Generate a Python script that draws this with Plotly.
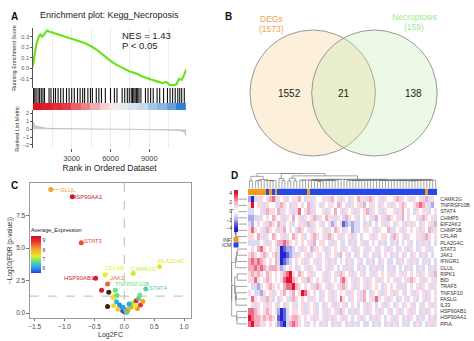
import numpy as np
import plotly.graph_objects as go
from plotly.colors import sample_colorscale

W, H = 474, 341

# ---------------- DATA ----------------
# Panel A: GSEA
N_RANK = 11850
ES_RANK = [0, 100, 250, 400, 500, 600, 700, 800, 900, 1000, 1100, 1250, 1500, 1800, 2100, 2500, 3000,
           3500, 4000, 4500, 5000, 5500, 6000, 6500, 7000, 7500, 8000, 8500, 9000, 9500, 10000, 10300,
           10600, 10900, 11100, 11300, 11500, 11700, 11850]
ES_VALUE = [0.02, 0.12, 0.22, 0.28, 0.31, 0.32, 0.30, 0.31, 0.33, 0.34, 0.36, 0.35, 0.34, 0.33, 0.32,
            0.30, 0.28, 0.26, 0.24, 0.21, 0.17, 0.12, 0.07, 0.03, 0.00, -0.03, -0.05, -0.08, -0.10,
            -0.12, -0.14, -0.13, -0.16, -0.16, -0.15, -0.10, -0.11, -0.06, -0.01]
HIT_RANKS = [50, 150, 250, 400, 520, 650, 780, 900, 1250, 1400, 1600, 1750, 1950, 2150, 2350, 2600,
             2800, 3000, 3200, 3450, 3650, 3850, 4000, 4250, 4450, 4600, 4900, 5100, 5300, 5600, 6000,
             6300, 6500, 6900, 7100, 7300, 7450, 7600, 7700, 7800, 7900, 8000, 8100, 8200, 8350, 8700,
             8900, 9100, 9300, 9600, 9800, 10100, 10400, 10600, 10800, 11000, 11200, 11350, 11500, 11700]
RANK_COLOR_LEVELS = [3.0, 2.9, 2.7, 2.5, 2.0, 1.6, 1.0, 0.5, 0.15, -0.3, -0.6, -0.9, -1.6, -1.9, -2.3, -2.9]
MET_RANK = [0, 50, 150, 300, 600, 1000, 1500, 2500, 3500, 4500, 6000, 7500, 8500, 9500, 10500, 11000,
            11400, 11600, 11750, 11850]
MET_VALUE = [1.0, 0.75, 0.5, 0.35, 0.22, 0.14, 0.09, 0.05, 0.03, 0.01, 0.0, -0.01, -0.03, -0.05, -0.09,
             -0.13, -0.2, -0.3, -0.5, -0.9]
NES_TEXT = ["NES = 1.43", "P < 0.05"]
GSEA_TITLE = "Enrichment plot: Kegg_Necroposis"

# Panel B: Venn
SET_NAMES = ["DEGs", "Necroptosis"]
SET_SIZES = [1573, 159]
SET_OVERLAP = 21

# Panel C: volcano
LABEL_GENES = ["GLUL", "HSP90AA1", "STAT3", "HSP90AB1", "CFLAR", "JAK1", "CAMK2G", "PLA2G4C", "TNFRSF10B", "STAT4"]
LABEL_LFC = [-1.23, -0.87, -0.72, -0.48, -0.32, -0.28, 0.15, 0.59, -0.15, 0.36]
LABEL_LOGP = [9.5, 8.95, 5.4, 2.67, 2.95, 2.23, 3.05, 3.56, 1.75, 1.85]
LABEL_EXPR = [8.1, 9.4, 8.7, 9.3, 7.3, 8.5, 7.2, 7.4, 6.8, 6.6]
OTHER_LFC = [-0.38, -0.16, -0.12, -0.19, -0.13, -0.18, -0.08, -0.05, -0.03, 0.0, 0.02, 0.04, 0.06, 0.09,
             0.12, 0.14, 0.20, 0.24, 0.26, 0.27, 0.22, 0.31, 0.18, -0.10, 0.08, -0.02]
OTHER_LOGP = [1.75, 1.30, 1.35, 1.20, 0.87, 0.56, 0.62, 0.36, 0.20, 0.10, 0.25, 0.05, 0.23, 0.40, 0.48,
              0.78, 0.95, 1.13, 1.38, 0.62, 0.35, 0.88, 0.55, 0.30, 0.70, 0.45]
OTHER_EXPR = [9.3, 7.6, 6.8, 7.5, 6.2, 7.5, 6.0, 5.6, 5.7, 5.5, 6.3, 6.6, 8.2, 6.9, 8.1, 7.0, 9.0, 6.6,
              6.9, 8.9, 8.2, 8.1, 7.3, 7.7, 6.2, 6.1]
DARK_LFC = [-0.26, -0.28]
DARK_LOGP = [1.6, 0.5]
FDR_CUT = 0.05

# Panel D: heatmap
ROW_GENES = ["CAMK2G", "TNFRSF10B", "STAT4", "CHMP5", "EIF2AK2", "CHMP1B", "CFLAR", "PLA2G4C", "STAT3",
             "JAK1", "IFNGR1", "GLUL", "RIPK1", "BID", "TRAF5", "TNFSF10", "FASLG", "IL33", "HSP90AB1",
             "HSP90AA1", "PPIA"]
# one string per gene, one digit per sample: '4' = 0, '0' = -4, '8' = +4
HEAT_ROWS = [
    "20355456" "73545345" "56435354" "45536453" "54354655" "36545354" "45635453" "54536354",
    "58455354" "45365435" "54546354" "35455463" "45354536" "45543545" "35456544" "56765324",
    "33445365" "54635453" "57456354" "45354645" "35453545" "63545354" "45356454" "35455345",
    "22335454" "65453546" "45354563" "54655354" "36545345" "45364536" "54536454" "45365453",
    "32454536" "54653453" "45536354" "53452345" "12323343" "53434535" "43545353" "54354536",
    "57545365" "45356454" "36545354" "45354654" "35423345" "54535446" "35453545" "45354635",
    "55465354" "65453546" "54534565" "45365453" "54535434" "45354554" "36545354" "45536545",
    "33334535" "45667654" "54545364" "55453545" "34353453" "34543534" "35343453" "43535343",
    "45467545" "45301223" "45354635" "45354545" "35453545" "35435453" "54354535" "43545354",
    "56545654" "56300123" "35453545" "54354536" "45343543" "54353454" "35343543" "54353434",
    "67676545" "46301234" "54535453" "54535345" "43534534" "35343543" "34353453" "53435343",
    "66767656" "66523454" "35453545" "34535434" "53534353" "43535343" "53434353" "43534353",
    "56565465" "45456785" "46545354" "45354536" "54535453" "45354545" "35453545" "45354536",
    "55754565" "45457886" "54536545" "45354546" "75453545" "35453545" "45354536" "54535453",
    "43325456" "54546778" "65454536" "54535453" "65453545" "35454354" "54535345" "45354535",
    "54332545" "35456456" "45875454" "35453545" "45354536" "43545354" "53545345" "35453545",
    "47545365" "34354536" "54545354" "35453547" "54354536" "45375453" "54354534" "53453545",
    "45354535" "45343545" "34535453" "43545354" "53454345" "35434535" "43543545" "34534535",
    "77654565" "45201345" "54535453" "45354536" "54353545" "35453545" "34535453" "54353545",
    "87665656" "54101356" "65454535" "45353545" "35434535" "43535434" "53543535" "43534353",
    "78665545" "45210367" "65453454" "35343535" "43535343" "34353435" "35343534" "35343535",
]
# sample group per column: I = INF, C = ICM
SAMPLE_GROUPS = "IIIIIICICI" + "C" * 10 + "I" + "C" * 39 + "I" + "CCC"
GROUP_NAMES = ["INF", "ICM"]

# ---------------- helpers ----------------
def px_x(p):
    return p / W


def px_y(p):
    return 1 - p / H


N_COL = 64
heat = np.array([[int(c) - 4 for c in (r + "4" * N_COL)[:N_COL]] for r in HEAT_ROWS], dtype=float)
groups = [0 if g == "I" else 1 for g in (SAMPLE_GROUPS + "C" * N_COL)[:N_COL]]


def adjacent_linkage(vectors):
    clusters = [dict(pos=float(i), h=0.0, vec=np.asarray(v, float), n=1) for i, v in enumerate(vectors)]
    merges = []
    while len(clusters) > 1:
        dists = []
        for k in range(len(clusters) - 1):
            a, b = clusters[k], clusters[k + 1]
            d = np.sqrt(2 * a['n'] * b['n'] / (a['n'] + b['n'])) * np.linalg.norm(a['vec'] - b['vec'])
            dists.append(d)
        k = int(np.argmin(dists))
        a, b = clusters[k], clusters[k + 1]
        h = max(dists[k], a['h'], b['h'])
        merges.append((a['pos'], a['h'], b['pos'], b['h'], h))
        clusters[k:k + 2] = [dict(pos=(a['pos'] + b['pos']) / 2, h=h,
                                  vec=(a['vec'] * a['n'] + b['vec'] * b['n']) / (a['n'] + b['n']),
                                  n=a['n'] + b['n'])]
    return merges, clusters[0]['h']


def dendro_path(merges, power=0.6):
    ps, hs = [], []
    for a_pos, a_h, b_pos, b_h, h in merges:
        ps += [a_pos, a_pos, b_pos, b_pos, None]
        hs += [a_h ** power, h ** power, h ** power, b_h ** power, None]
    return ps, hs


FONT = "Liberation Sans, Arial, sans-serif"
fig = go.Figure()

# ---------------- Panel A ----------------
fig.add_trace(go.Scatter(x=ES_RANK, y=ES_VALUE, mode="lines", line=dict(color="#6BE31C", width=2.2),
                         xaxis="x", yaxis="y", hoverinfo="skip"))
hx, hy = [], []
for r in HIT_RANKS:
    hx += [r, r, None]
    hy += [0, 1, None]
fig.add_trace(go.Scatter(x=hx, y=hy, mode="lines", line=dict(color="#111", width=1.1),
                         xaxis="x2", yaxis="y2", hoverinfo="skip"))
nlev = len(RANK_COLOR_LEVELS)
fig.add_trace(go.Heatmap(z=[RANK_COLOR_LEVELS], x=[(i + 0.5) * N_RANK / nlev for i in range(nlev)], y=[0],
                         zmin=-3, zmax=3, showscale=False, xaxis="x3", yaxis="y3", hoverinfo="skip",
                         colorscale=[[0, "#2A7BD5"], [0.25, "#A9CBE6"], [0.5, "#F6F1F3"],
                                     [0.75, "#F08890"], [1, "#E0161E"]]))
fig.add_trace(go.Scatter(x=MET_RANK, y=MET_VALUE, mode="lines", fill="tozeroy", fillcolor="#C9CDCD",
                         line=dict(color="#B3B8B8", width=0.8), xaxis="x4", yaxis="y4", hoverinfo="skip"))

# ---------------- Panel B (Venn) ----------------
fig.add_trace(go.Scatter(x=[300], y=[100], mode="markers", marker=dict(opacity=0), xaxis="x5", yaxis="y5",
                         hoverinfo="skip"))

# ---------------- Panel C (volcano) ----------------
VOLC_CS = [[0, "#2B3BD8"], [0.15, "#22A6F0"], [0.32, "#62E08A"], [0.45, "#E8EE22"],
           [0.65, "#F6A030"], [0.85, "#E63232"], [1, "#C8102E"]]
CMIN, CMAX = 5.5, 9.5
fig.add_trace(go.Scatter(x=OTHER_LFC + LABEL_LFC, y=OTHER_LOGP + LABEL_LOGP, mode="markers",
                         marker=dict(size=5, color=OTHER_EXPR + LABEL_EXPR, colorscale=VOLC_CS,
                                     cmin=CMIN, cmax=CMAX, showscale=True,
                                     colorbar=dict(x=px_x(29), xanchor="left", y=px_y(273), yanchor="bottom",
                                                   len=48 / H, lenmode="fraction", thickness=10,
                                                   thicknessmode="pixels", outlinewidth=0,
                                                   tickvals=[6, 7, 8, 9], ticks="",
                                                   tickfont=dict(size=5, color="#444", family=FONT),
                                                   title=dict(text="Average_Expression", side="top",
                                                              font=dict(size=5.5, color="#222", family=FONT)),
                                                   bgcolor="rgba(0,0,0,0)", xpad=0, ypad=0)),
                         xaxis="x6", yaxis="y6", hoverinfo="skip"))
fig.add_trace(go.Scatter(x=DARK_LFC, y=DARK_LOGP, mode="markers", marker=dict(size=5, color="#4A1A0C"),
                         xaxis="x6", yaxis="y6", hoverinfo="skip"))

# ---------------- Panel D (heatmap) ----------------
HEAT_CS = [[0, "#2424CC"], [0.125, "#6464DA"], [0.25, "#ABABEA"], [0.375, "#DADAF6"], [0.5, "#FFFFFF"],
           [0.625, "#F9DAE3"], [0.75, "#F3AEC0"], [0.875, "#EA6A88"], [1, "#E0102E"]]
fig.add_trace(go.Heatmap(z=heat, x=list(range(N_COL)), y=list(range(len(ROW_GENES))), zmin=-4, zmax=4,
                         colorscale=HEAT_CS, showscale=False, xaxis="x7", yaxis="y7", hoverinfo="skip"))
fig.add_trace(go.Heatmap(z=[groups], x=list(range(N_COL)), y=[0], zmin=0, zmax=1, showscale=False,
                         colorscale=[[0, "#F39A1E"], [0.5, "#F39A1E"], [0.5, "#2447E6"], [1, "#2447E6"]],
                         xaxis="x8", yaxis="y8", hoverinfo="skip"))
cm, cmax_h = adjacent_linkage(heat.T)
cx, cy = dendro_path(cm)
fig.add_trace(go.Scatter(x=cx, y=cy, mode="lines", line=dict(color="#666", width=0.6), xaxis="x9",
                         yaxis="y9", hoverinfo="skip"))
rm, rmax_h = adjacent_linkage(heat)
ry, rx = dendro_path(rm)
fig.add_trace(go.Scatter(x=rx, y=ry, mode="lines", line=dict(color="#666", width=0.6), xaxis="x10",
                         yaxis="y10", hoverinfo="skip"))
levels = list(np.linspace(-4.7, 4.7, 48))
fig.add_trace(go.Heatmap(z=[[v] for v in levels], x=[0], y=levels, zmin=-4, zmax=4, colorscale=HEAT_CS,
                         showscale=False, xaxis="x11", yaxis="y11", hoverinfo="skip"))

# ---------------- Layout ----------------
A_X = [px_x(31), px_x(185)]
hidden = dict(visible=False, showgrid=False, zeroline=False)
small_tick = dict(size=5.5, color="#555", family=FONT)
layout = dict(
    width=W, height=H, margin=dict(l=0, r=0, t=0, b=0), paper_bgcolor="white", plot_bgcolor="white",
    showlegend=False, font=dict(family=FONT, color="#333"),
    xaxis=dict(domain=A_X, anchor="y", range=[0, N_RANK], showticklabels=False, ticks="", zeroline=False,
               showgrid=True, gridcolor="#ECECEC", gridwidth=0.8, tick0=0, dtick=1500),
    yaxis=dict(domain=[px_y(88), px_y(28)], anchor="x", range=[-0.187, 0.383],
               tickvals=[-0.1, 0, 0.1, 0.2, 0.3], ticktext=["-0.1", "0.0", "0.1", "0.2", "0.3"],
               tickfont=small_tick, ticks="outside", ticklen=2, tickcolor="#555", showline=True,
               linecolor="#555", linewidth=0.6, showgrid=False, zeroline=False,
               title=dict(text="Running Enrichment Score", font=dict(size=5.5, color="#333"), standoff=2)),
    xaxis2=dict(domain=A_X, anchor="y2", range=[0, N_RANK], **hidden),
    yaxis2=dict(domain=[px_y(103), px_y(88)], anchor="x2", range=[0, 1], **hidden),
    xaxis3=dict(domain=A_X, anchor="y3", range=[0, N_RANK], **hidden),
    yaxis3=dict(domain=[px_y(110), px_y(103)], anchor="x3", range=[-0.5, 0.5], **hidden),
    xaxis4=dict(domain=A_X, anchor="y4", range=[0, N_RANK], tickvals=[3000, 6000, 9000],
                tickfont=dict(size=7.5, color="#444"), ticks="outside", ticklen=2.5, tickcolor="#555",
                showgrid=True, gridcolor="#ECECEC", zeroline=False,
                minor=dict(tickmode="linear", tick0=0, dtick=1500, showgrid=True, gridcolor="#ECECEC"),
                title=dict(text="Rank in Ordered Dataset", font=dict(size=8.5, color="#222"), standoff=3)),
    yaxis4=dict(domain=[px_y(148), px_y(110)], anchor="x4", range=[-2.4, 2.45], tickvals=[-2, -1, 0, 1, 2],
                tickfont=small_tick, ticks="outside", ticklen=2, tickcolor="#555", showline=True,
                linecolor="#555", linewidth=0.6, showgrid=False, zeroline=False,
                title=dict(text="Ranked List Metric", font=dict(size=5.5, color="#333"), standoff=2)),
    xaxis5=dict(domain=[px_x(240), 1], anchor="y5", range=[240, 474], **hidden),
    yaxis5=dict(domain=[px_y(170), 1], anchor="x5", range=[170, 0], **hidden),
    xaxis6=dict(domain=[px_x(28), px_x(190)], anchor="y6", range=[-1.58, 1.12],
                tickvals=[-1.5, -1, -0.5, 0, 0.5, 1], ticktext=["−1.5", "−1.0", "−0.5", "0.0", "0.5", "1.0"],
                tickfont=dict(size=6.5, color="#444"), ticks="outside", ticklen=2.5, tickcolor="#777",
                showline=True, mirror=True, linecolor="#9A9A9A", linewidth=0.8, showgrid=False, zeroline=False,
                title=dict(text="Log2FC", font=dict(size=7, color="#333"), standoff=2)),
    yaxis6=dict(domain=[px_y(318), px_y(183)], anchor="x6", range=[-0.38, 10.0],
                tickvals=[0, 2.5, 5, 7.5], ticktext=["0.0", "2.5", "5.0", "7.5"],
                tickfont=dict(size=6.5, color="#444"), ticks="outside", ticklen=2.5, tickcolor="#777",
                showline=True, mirror=True, linecolor="#9A9A9A", linewidth=0.8, showgrid=False, zeroline=False,
                title=dict(text="−Log10(FDR (p-value))", font=dict(size=6.5, color="#333"), standoff=2)),
    xaxis7=dict(domain=[px_x(247), px_x(437)], anchor="y7", range=[-0.5, N_COL - 0.5], **hidden),
    yaxis7=dict(domain=[px_y(327), px_y(196)], anchor="x7", range=[len(ROW_GENES) - 0.5, -0.5], side="right",
                tickvals=list(range(len(ROW_GENES))), ticktext=ROW_GENES, ticks="", showgrid=False,
                zeroline=False, tickfont=dict(size=5.2, color="#333"), ticklabelstandoff=2),
    xaxis8=dict(domain=[px_x(247), px_x(437)], anchor="y8", range=[-0.5, N_COL - 0.5], **hidden),
    yaxis8=dict(domain=[px_y(195), px_y(188.5)], anchor="x8", range=[-0.5, 0.5], **hidden),
    xaxis9=dict(domain=[px_x(247), px_x(437)], anchor="y9", range=[-0.5, N_COL - 0.5], **hidden),
    yaxis9=dict(domain=[px_y(188), px_y(173)], anchor="x9", range=[0, cmax_h ** 0.6 * 1.02], **hidden),
    xaxis10=dict(domain=[px_x(230), px_x(246)], anchor="y10", range=[rmax_h ** 0.6 * 1.02, 0], **hidden),
    yaxis10=dict(domain=[px_y(327), px_y(196)], anchor="x10", range=[len(ROW_GENES) - 0.5, -0.5], **hidden),
    xaxis11=dict(domain=[px_x(233), px_x(237.5)], anchor="y11", range=[-0.5, 0.5], **hidden),
    yaxis11=dict(domain=[px_y(232), px_y(190)], anchor="x11", range=[-4.8, 4.8], tickvals=[-4, -2, 0, 2, 4],
                 tickfont=dict(size=5, color="#333"), ticks="", showgrid=False, zeroline=False,
                 ticklabelstandoff=1),
)
fig.update_layout(**layout)

shapes = []
annotations = []

# Venn circles (axis 5 uses pixel-like units)
shapes.append(dict(type="circle", xref="x5", yref="y5", x0=249, x1=375, y0=30, y1=156,
                   fillcolor="rgba(245,192,105,0.24)", line=dict(color="#8C8C8C", width=0.9), layer="above"))
shapes.append(dict(type="circle", xref="x5", yref="y5", x0=311, x1=437, y0=30, y1=156,
                   fillcolor="rgba(185,232,165,0.28)", line=dict(color="#8C8C8C", width=0.9), layer="above"))
venn_colors = ["#F2A64A", "#9BE88C"]
for name, size, cx_, ty in zip(SET_NAMES, SET_SIZES, [271, 414], [19, 17]):
    col = venn_colors[SET_NAMES.index(name)]
    annotations.append(dict(xref="x5", yref="y5", x=cx_, y=ty, text=name, showarrow=False, xanchor="center",
                            font=dict(size=8.5, color=col)))
    annotations.append(dict(xref="x5", yref="y5", x=cx_, y=ty + 9.5, text=f"({size})", showarrow=False,
                            xanchor="center", font=dict(size=8.5, color=col)))
venn_counts = [SET_SIZES[0] - SET_OVERLAP, SET_OVERLAP, SET_SIZES[1] - SET_OVERLAP]
for cnt, xx in zip(venn_counts, [289, 343, 413]):
    annotations.append(dict(xref="x5", yref="y5", x=xx, y=93, text=str(cnt), showarrow=False, xanchor="center",
                            font=dict(size=10, color="#222")))

# Volcano threshold lines
shapes.append(dict(type="line", xref="x6", yref="y6 domain", x0=0, x1=0, y0=0, y1=1,
                   line=dict(color="#AAAAAA", width=0.8, dash="dash")))
thr = -np.log10(FDR_CUT)
shapes.append(dict(type="line", xref="x6 domain", yref="y6", x0=0, x1=1, y0=thr, y1=thr,
                   line=dict(color="#AAAAAA", width=0.8, dash="dash")))

# Volcano labels
LABEL_DX = [17, 15.5, 11.5, -16.5, 10, 10, 10.5, 12.5, 17, 12]
LABEL_DY = [0, 0, -1.5, 0, -7, -6.5, -4.5, -5.5, -6, -1]
lab_cols = sample_colorscale(VOLC_CS, [(min(max(e, CMIN), CMAX) - CMIN) / (CMAX - CMIN) for e in LABEL_EXPR])
for g, xv, yv, dx, dy, col in zip(LABEL_GENES, LABEL_LFC, LABEL_LOGP, LABEL_DX, LABEL_DY, lab_cols):
    annotations.append(dict(xref="x6", yref="y6", x=xv, y=yv, text=g, showarrow=True, arrowhead=0,
                            arrowwidth=0.6, arrowcolor=col, ax=dx, ay=dy, standoff=2,
                            font=dict(size=6, color=col)))

# Heatmap group legend
shapes.append(dict(type="rect", xref="paper", yref="paper", x0=px_x(232.5), x1=px_x(237.5),
                   y0=px_y(242), y1=px_y(237), fillcolor="#F39A1E", line=dict(width=0)))
shapes.append(dict(type="rect", xref="paper", yref="paper", x0=px_x(232.5), x1=px_x(237.5),
                   y0=px_y(247.5), y1=px_y(242.5), fillcolor="#2447E6", line=dict(width=0)))
for name, yy in zip(GROUP_NAMES, [239.5, 245]):
    annotations.append(dict(xref="paper", yref="paper", x=px_x(231.5), y=px_y(yy), xanchor="right",
                            yanchor="middle", text=name, showarrow=False, font=dict(size=5, color="#333")))

# Titles / letters
annotations.append(dict(xref="paper", yref="paper", x=px_x(108), y=px_y(15.5), text=GSEA_TITLE,
                        xanchor="center", yanchor="middle", showarrow=False, font=dict(size=9, color="#222")))
for i, t in enumerate(NES_TEXT):
    annotations.append(dict(xref="paper", yref="paper", x=px_x(119), y=px_y(35 + 10 * i), xanchor="left",
                            yanchor="middle", text=t, showarrow=False, font=dict(size=9.5, color="#222")))
for letter, lx, ly in [("A", 13, 17), ("B", 227, 17), ("C", 13, 185), ("D", 233, 175)]:
    annotations.append(dict(xref="paper", yref="paper", x=px_x(lx), y=px_y(ly), text=f"<b>{letter}</b>",
                            xanchor="center", yanchor="middle", showarrow=False,
                            font=dict(size=10, color="#111")))

fig.update_layout(shapes=shapes, annotations=annotations)
fig.write_html("out.html")
